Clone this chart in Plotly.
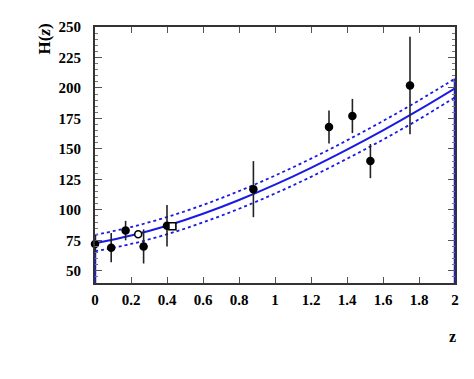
import plotly.graph_objects as go

# Measured H(z) data (filled circles)
z_data = [0.0, 0.09, 0.17, 0.27, 0.40, 0.88, 1.30, 1.43, 1.53, 1.75]
H_data = [72, 69, 83, 70, 87, 117, 168, 177, 140, 202]
H_err = [8, 12, 8, 14, 17, 23, 13.5, 14, 14, 40]

# Open markers
z_open_circle = [0.24]
H_open_circle = [80]
z_open_square = [0.43]
H_open_square = [86.5]

# Best-fit curve and 1-sigma band
z_curve = [0.0, 0.2, 0.4, 0.6, 0.8, 1.0, 1.2, 1.4, 1.6, 1.8, 2.0]
H_center = [72.5, 78.9, 87.0, 96.8, 108.1, 120.7, 134.5, 149.4, 165.2, 182.0, 199.7]
H_upper = [79.4, 85.9, 94.1, 104.0, 115.4, 128.1, 142.0, 157.0, 172.9, 189.8, 207.7]
H_lower = [66.0, 72.0, 80.0, 89.7, 100.9, 113.4, 127.1, 141.9, 157.6, 174.3, 192.3]

y_min, y_max = 40, 250
x_min, x_max = 0, 2

blue = "#1a1ae6"
fig = go.Figure()

# closing verticals at the edges (as in the original drawing)
fig.add_trace(go.Scatter(x=[z_curve[0], z_curve[0]], y=[H_upper[0], y_min],
                         mode="lines", line=dict(color=blue, width=2.5),
                         hoverinfo="skip", showlegend=False, cliponaxis=False))
fig.add_trace(go.Scatter(x=[z_curve[-1], z_curve[-1]], y=[H_upper[-1], y_min],
                         mode="lines", line=dict(color=blue, width=2.5),
                         hoverinfo="skip", showlegend=False, cliponaxis=False))

fig.add_trace(go.Scatter(x=z_curve, y=H_upper, mode="lines", line_shape="spline",
                         line=dict(color=blue, width=1.8, dash="dot"), showlegend=False))
fig.add_trace(go.Scatter(x=z_curve, y=H_lower, mode="lines", line_shape="spline",
                         line=dict(color=blue, width=1.8, dash="dot"), showlegend=False))
fig.add_trace(go.Scatter(x=z_curve, y=H_center, mode="lines", line_shape="spline",
                         line=dict(color=blue, width=2), showlegend=False))

fig.add_trace(go.Scatter(x=z_data, y=H_data, mode="markers",
                         marker=dict(color="black", size=8.5, symbol="circle"),
                         error_y=dict(type="data", array=H_err, color="#222222",
                                      thickness=1.6, width=0),
                         showlegend=False, cliponaxis=False))
fig.add_trace(go.Scatter(x=z_open_circle, y=H_open_circle, mode="markers",
                         marker=dict(color="white", size=7, symbol="circle",
                                     line=dict(color="black", width=1.6)),
                         showlegend=False))
fig.add_trace(go.Scatter(x=z_open_square, y=H_open_square, mode="markers",
                         marker=dict(color="white", size=7, symbol="square",
                                     line=dict(color="black", width=1.6)),
                         showlegend=False))

font = dict(family="Liberation Serif", size=15, color="black")

fig.update_layout(
    width=474, height=379,
    margin=dict(l=87, r=27, t=11, b=104),
    plot_bgcolor="white", paper_bgcolor="white",
    font=font,
    xaxis=dict(range=[x_min, x_max], tickmode="array",
               tickvals=[0, 0.2, 0.4, 0.6, 0.8, 1, 1.2, 1.4, 1.6, 1.8, 2],
               ticktext=["<b>0</b>", "<b>0.2</b>", "<b>0.4</b>", "<b>0.6</b>", "<b>0.8</b>",
                         "<b>1</b>", "<b>1.2</b>", "<b>1.4</b>", "<b>1.6</b>", "<b>1.8</b>", "<b>2</b>"],
               ticks="inside", ticklen=6, tickcolor="#555", tickwidth=1,
               showline=True, linecolor="#333", linewidth=2, mirror="ticks",
               showgrid=False, zeroline=False, ticklabelstandoff=2),
    yaxis=dict(range=[y_min, y_max], tickmode="array",
               tickvals=[50, 75, 100, 125, 150, 175, 200, 225, 250],
               ticktext=["<b>%d</b>" % v for v in [50, 75, 100, 125, 150, 175, 200, 225, 250]],
               ticks="inside", ticklen=7, tickcolor="#555", tickwidth=1,
               minor=dict(dtick=5, tick0=0, ticks="inside", ticklen=3, tickcolor="#777"),
               showline=True, linecolor="#333", linewidth=2, mirror="ticks",
               showgrid=False, zeroline=False, ticklabelstandoff=9),
    annotations=[
        dict(text="<b>H(<i>z</i>)</b>", xref="paper", yref="paper", x=-0.139, y=0.955,
             xanchor="center", yanchor="middle", textangle=-90, showarrow=False,
             font=dict(family="Liberation Serif", size=17, color="black")),
        dict(text="<b>z</b>", xref="paper", yref="paper", x=0.992, y=-0.208,
             xanchor="center", yanchor="middle", showarrow=False,
             font=dict(family="Liberation Serif", size=16, color="black")),
    ],
)

fig.write_html("out.html")
